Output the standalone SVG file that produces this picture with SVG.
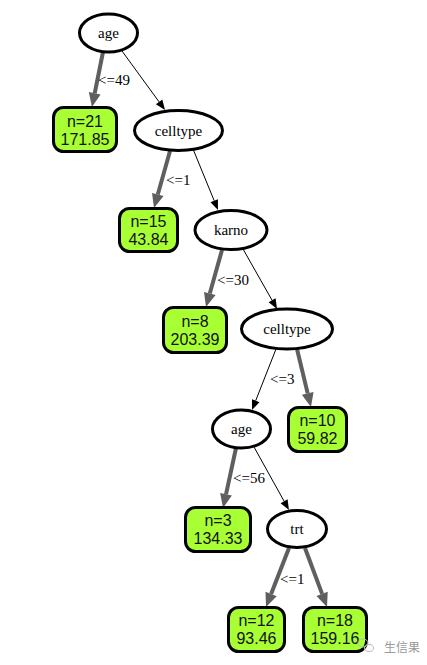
<svg xmlns="http://www.w3.org/2000/svg" width="427" height="665" viewBox="0 0 427 665">
<style>
.split ellipse{fill:#fff;stroke:#000;stroke-width:3}
.split text{font-family:"Liberation Serif","Times New Roman",serif;font-size:15px;fill:#000;text-anchor:middle}
.leaf rect{fill:#a8ff33;stroke:#000;stroke-width:3}
.leaf text{font-family:"Liberation Sans",Arial,sans-serif;font-size:16px;fill:#111;text-anchor:middle}
.thick{stroke:#5f5f5f;stroke-width:4;fill:none}
.thin{stroke:#000;stroke-width:1;fill:none}
.lbl{font-family:"Liberation Serif","Times New Roman",serif;font-size:15px;fill:#000}
.wm{font-family:"Noto Sans CJK SC",sans-serif;font-size:12px;fill:#9a9a9a}
</style>
<defs>
<marker id="ah" markerUnits="userSpaceOnUse" markerWidth="14" markerHeight="12" refX="0" refY="6" orient="auto" overflow="visible"><path d="M0,0 L14,6 L0,12 z" fill="#5f5f5f"/></marker>
<marker id="at" markerUnits="userSpaceOnUse" markerWidth="10" markerHeight="8" refX="0" refY="4" orient="auto" overflow="visible"><path d="M0,0 L10,4 L0,8 z" fill="#000"/></marker>
</defs>
<rect width="427" height="665" fill="#fff"/>
<g id="connectors">
<line class="thick" x1="103" y1="52" x2="94.7" y2="93.3" marker-end="url(#ah)"/>
<line class="thin" x1="122" y1="51" x2="159.1" y2="101.9" marker-end="url(#at)"/>
<line class="thick" x1="170" y1="151" x2="157.8" y2="194.5" marker-end="url(#ah)"/>
<line class="thin" x1="193" y1="149" x2="214.2" y2="200.7" marker-end="url(#at)"/>
<line class="thick" x1="222" y1="250" x2="209.8" y2="293.5" marker-end="url(#ah)"/>
<line class="thin" x1="243" y1="249" x2="272.1" y2="300.3" marker-end="url(#at)"/>
<line class="thin" x1="276" y1="349" x2="255.7" y2="400.7" marker-end="url(#at)"/>
<line class="thick" x1="297" y1="349" x2="307.7" y2="393.4" marker-end="url(#ah)"/>
<line class="thick" x1="236" y1="448" x2="226" y2="494.3" marker-end="url(#ah)"/>
<line class="thin" x1="254" y1="447" x2="284.1" y2="501.2" marker-end="url(#at)"/>
<line class="thick" x1="289" y1="548" x2="271.1" y2="594" marker-end="url(#ah)"/>
<line class="thick" x1="305" y1="548" x2="322.1" y2="593.9" marker-end="url(#ah)"/>
<text class="lbl" x="98" y="85">&lt;=49</text>
<text class="lbl" x="166" y="185">&lt;=1</text>
<text class="lbl" x="217" y="285">&lt;=30</text>
<text class="lbl" x="270" y="384">&lt;=3</text>
<text class="lbl" x="233" y="483">&lt;=56</text>
<text class="lbl" x="280" y="584">&lt;=1</text>
</g>
<g id="n_age" class="split"><ellipse cx="108.5" cy="33" rx="29" ry="19"/><text x="108.5" y="38">age</text></g>
<g id="n_celltype" class="split"><ellipse cx="178.5" cy="130.5" rx="44" ry="20"/><text x="178.5" y="135.5">celltype</text></g>
<g id="n_karno" class="split"><ellipse cx="231" cy="230" rx="36" ry="19.5"/><text x="231" y="235">karno</text></g>
<g id="n_celltype2" class="split"><ellipse cx="287" cy="329" rx="45.5" ry="20"/><text x="287" y="334">celltype</text></g>
<g id="n_age2" class="split"><ellipse cx="241.5" cy="429" rx="29" ry="19"/><text x="241.5" y="434">age</text></g>
<g id="n_trt" class="split"><ellipse cx="297" cy="529" rx="29.5" ry="18.5"/><text x="297" y="534">trt</text></g>
<g id="l_21" class="leaf"><rect x="53.5" y="107.5" width="63" height="44" rx="10"/><text x="85" y="127">n=21</text><text x="85" y="145">171.85</text></g>
<g id="l_15" class="leaf"><rect x="119.5" y="208.5" width="58" height="43" rx="10"/><text x="148.5" y="227">n=15</text><text x="148.5" y="245">43.84</text></g>
<g id="l_8" class="leaf"><rect x="163.5" y="307.5" width="63" height="45" rx="10"/><text x="195" y="327">n=8</text><text x="195" y="345">203.39</text></g>
<g id="l_10" class="leaf"><rect x="288.5" y="407.5" width="58" height="44" rx="10"/><text x="317.5" y="426">n=10</text><text x="317.5" y="444">59.82</text></g>
<g id="l_3" class="leaf"><rect x="185.5" y="507.5" width="65" height="44" rx="10"/><text x="218" y="526">n=3</text><text x="218" y="544">134.33</text></g>
<g id="l_12" class="leaf"><rect x="228.5" y="607.5" width="56" height="44" rx="10"/><text x="256.5" y="626">n=12</text><text x="256.5" y="644">93.46</text></g>
<g id="l_18" class="leaf"><rect x="303.5" y="607.5" width="63" height="44" rx="10"/><text x="335" y="626">n=18</text><text x="335" y="644">159.16</text></g>
<g id="watermark">
<ellipse cx="363" cy="643" rx="5" ry="4" fill="none" stroke="#bbb" stroke-width="1"/>
<ellipse cx="369" cy="648" rx="4.5" ry="3.5" fill="none" stroke="#bbb" stroke-width="1"/>
<text class="wm" x="384" y="652">生信果</text>
</g>
</svg>
